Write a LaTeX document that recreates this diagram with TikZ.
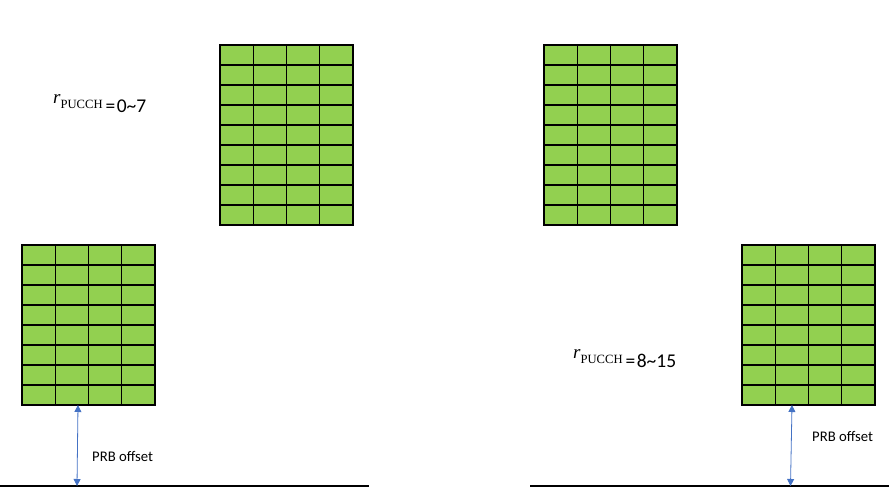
\documentclass[tikz,border=0pt]{standalone}
\usepackage{fontspec}
\setmainfont{Carlito}
\newfontfamily\eqfont{Liberation Serif}
\usetikzlibrary{arrows.meta}
\definecolor{rbgreen}{HTML}{92D050}
\definecolor{offblue}{HTML}{4472C4}
\tikzset{
  cell/.style = {draw=black, fill=rbgreen, line width=1.3pt},
  base/.style = {draw=black, line width=1.3pt},
  offset/.style = {draw=offblue, line width=.8pt, {Triangle[length=7pt,width=7pt]}-{Triangle[length=7pt,width=7pt]}},
  label/.style = {font=\fontsize{14.7}{17}\selectfont, anchor=base west, inner sep=0pt},
  rlabel/.style = {font=\fontsize{19.5}{22}\selectfont, anchor=base west, inner sep=0pt}
}
\newcommand{\rpucch}{{\eqfont\itshape\fontsize{19}{21}\selectfont\raisebox{9pt}{r}}\raisebox{4pt}{\eqfont\fontsize{12.6}{14}\selectfont PUCCH}\hspace{3pt}=\hspace{1.5pt}}

\begin{document}
\begin{tikzpicture}[x=1pt,y=-1pt]
  \useasboundingbox (0,0) rectangle (889,498);
  % resource block grids
  \foreach \gx/\gy/\rows in {220/45/9,544/45/9,22/245/8,742/245/8}{
    \foreach \ci in {0,...,3}{
      \foreach \ri in {1,...,\rows}{
        \draw[cell] (\gx+\ci*33.25,\gy+\ri*20-20) rectangle ++(33.25,20);
      }
    }
  }
  % band edges
  \draw[base] (0,486) -- (369,486);
  \draw[base] (530,486) -- (889,486);
  % offsets
  \coordinate (ltop) at (78,405);
  \coordinate (lbot) at (77,486);
  \coordinate (rtop) at (792,405);
  \coordinate (rbot) at (790.5,486);
  \draw[offset] (ltop) -- (lbot);
  \draw[offset] (rtop) -- (rbot);
  \node[label] (offl) at (92,461) {PRB offset};
  \node[label] (offr) at (812,441) {PRB offset};
  % r_PUCCH ranges
  \node[rlabel] (rlow) at (53,112) {\rpucch0\textasciitilde7};
  \node[rlabel] (rhigh) at (573,367) {\rpucch8\textasciitilde15};
\end{tikzpicture}
\end{document}
